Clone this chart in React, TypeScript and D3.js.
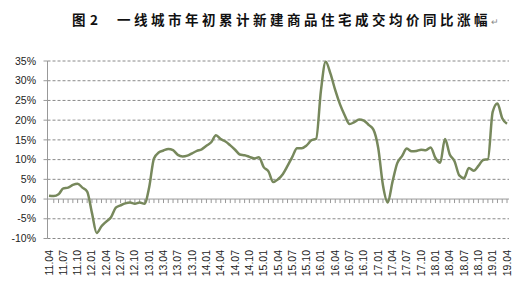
import React from 'react';
import * as d3 from 'd3';

// month labels every 3 months, 11.04 .. 19.04
const tickLabels = [
  '11.04', '11.07', '11.10', '12.01', '12.04', '12.07', '12.10', '13.01', '13.04', '13.07', '13.10',
  '14.01', '14.04', '14.07', '14.10', '15.01', '15.04', '15.07', '15.10', '16.01', '16.04', '16.07',
  '16.10', '17.01', '17.04', '17.07', '17.10', '18.01', '18.04', '18.07', '18.10', '19.01', '19.04',
];

// monthly values (%), 2011.04 .. 2019.04
const growth = [
  0.85, 0.75, 1.2, 2.7, 2.9, 3.6, 3.9, 2.9, 1.9, -3.5,
  -8.6, -6.9, -5.7, -4.6, -2.2, -1.6, -1.1, -0.9, -1.2, -0.9,
  -1.2, 3.0, 10.3, 11.8, 12.3, 12.7, 12.4, 11.2, 10.8, 11.0,
  11.6, 12.2, 12.6, 13.5, 14.4, 16.2, 15.2, 14.6, 13.6, 12.5,
  11.3, 11.1, 10.7, 10.3, 10.6, 8.1, 7.0, 4.3, 5.0, 6.3,
  8.4, 10.7, 12.9, 12.9, 13.6, 14.9, 15.3, 27.5, 34.8, 31.8,
  27.6, 24.0, 21.2, 19.0, 19.5, 20.2, 19.9, 18.8, 17.6, 13.0,
  3.5, -0.9, 4.4, 9.1, 10.9, 12.8, 12.1, 12.2, 12.5, 12.4,
  13.1, 10.4, 9.2, 15.2, 11.3, 9.6, 6.0, 5.3, 7.9, 7.2,
  8.4, 9.9, 10.1, 22.1, 24.2, 20.5, 19.1,
];

const yTicks = [-10, -5, 0, 5, 10, 15, 20, 25, 30, 35];

const W = 528;
const H = 289;
const plotLeft = 47.5;
const plotRight = 509;

export default function App() {
  const months = growth.map((_, i) => i);
  const x = d3.scalePoint<number>().domain(months).range([49, 507]);
  const y = d3.scaleLinear().domain([-10, 35]).range([238.5, 61]);

  const line = d3.line<number>()
    .x((_, i) => x(i) as number)
    .y(d => y(d))
    .curve(d3.curveMonotoneX);

  return (
    <div style={{ position: 'fixed', left: 0, top: 0 }}>
      <svg width={W} height={H} style={{ display: 'block', background: '#fff' }}>
        <text y={25} fontFamily="'Noto Sans CJK SC', sans-serif" fontWeight="bold" fontSize={13.5} fill="#111">
          <tspan x={72}>图</tspan>
          <tspan x={90}>2</tspan>
          <tspan x={117} letterSpacing={3.5}>一线城市年初累计新建商品住宅成交均价同比涨幅</tspan>
          <tspan fontSize={9} fontWeight="normal" fill="#888" letterSpacing={0}>↵</tspan>
        </text>

        {yTicks.filter(t => t !== 0).map(t => (
          <line key={t} x1={plotLeft} x2={plotRight} y1={y(t)} y2={y(t)}
            stroke="#8a8a8a" strokeWidth={1} strokeDasharray="3,2" />
        ))}

        {/* y axis */}
        <line x1={plotLeft} x2={plotLeft} y1={y(35)} y2={y(-10)} stroke="#999" strokeWidth={1} />
        {yTicks.map(t => (
          <g key={t}>
            <line x1={plotLeft - 4} x2={plotLeft} y1={y(t)} y2={y(t)} stroke="#999" />
            <text x={36} y={y(t)} dy="0.35em" textAnchor="end"
              fontFamily="'Liberation Sans', Arial, sans-serif" fontSize={10.5} fill="#222">
              {t}%
            </text>
          </g>
        ))}

        {/* category axis at 0% */}
        <line x1={plotLeft} x2={plotRight} y1={y(0)} y2={y(0)} stroke="#999" strokeWidth={1} />
        {months.slice(1).map(i => (
          <line key={i} x1={x(i)} x2={x(i)} y1={y(0)} y2={y(0) + 4} stroke="#999" />
        ))}
        {tickLabels.map((lab, k) => {
          const px = x(k * 3) as number;
          return (
            <text key={lab} transform={`translate(${px + 3.5},250) rotate(-90)`} textAnchor="end"
              fontFamily="'Liberation Sans', Arial, sans-serif" fontSize={10.5} fill="#222">
              {lab}
            </text>
          );
        })}

        <path d={line(growth) ?? ''} fill="none" stroke="#77885c" strokeWidth={2.5} strokeLinejoin="round" />
      </svg>
    </div>
  );
}
